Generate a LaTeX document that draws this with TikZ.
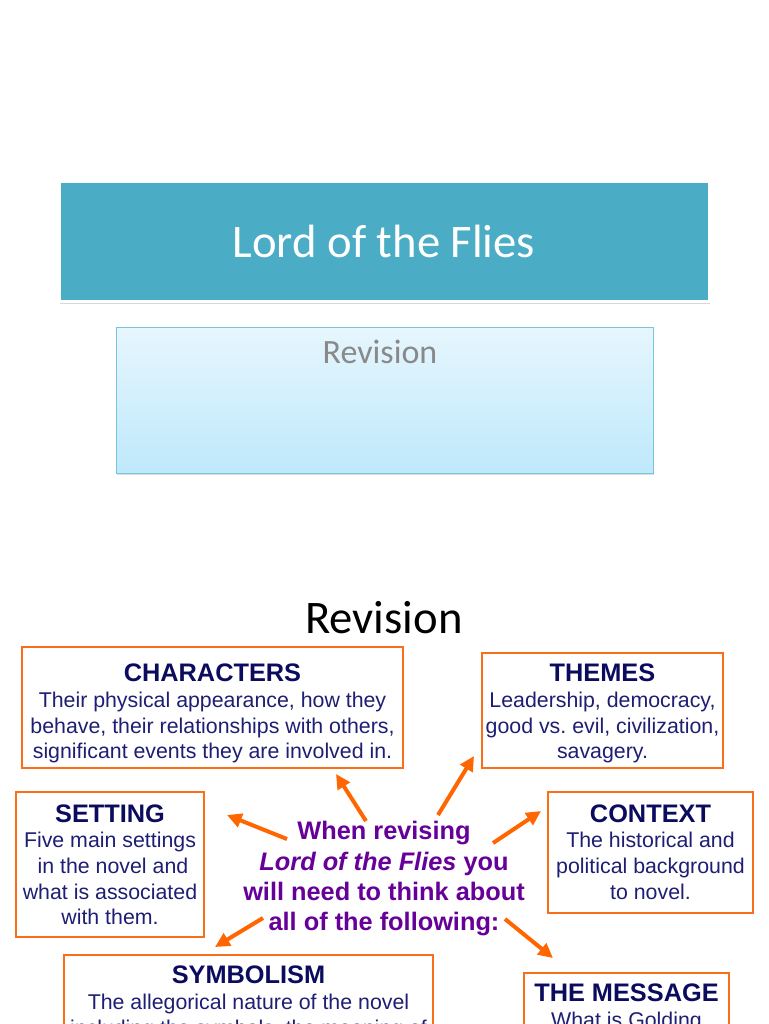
\documentclass[tikz,border=0pt]{standalone}
\usepackage{fontspec}
\setmainfont{Liberation Sans}
\newfontfamily\calibri{Carlito}
\usetikzlibrary{arrows.meta,positioning,shadows}
\definecolor{slideteal}{RGB}{75,172,198}
\definecolor{paleblue}{RGB}{230,246,253}
\definecolor{skyblue}{RGB}{190,233,251}
\definecolor{edgeblue}{RGB}{120,196,220}
\definecolor{revgray}{RGB}{137,137,137}
\definecolor{boxorange}{RGB}{250,110,25}
\definecolor{arroworange}{RGB}{255,102,0}
\definecolor{inknavy}{RGB}{30,30,115}
\definecolor{headnavy}{RGB}{12,12,95}
\definecolor{revpurple}{RGB}{102,0,153}
\newcommand\boxhead[1]{{\bfseries\color{headnavy}\fontsize{19}{19.2}\selectfont #1}}

\begin{document}
\begin{tikzpicture}[x=0.75pt, y=-0.75pt, every node/.style={inner sep=0pt}]
\tikzset{titlebox/.style={fill=slideteal, draw=white, line width=2.25pt, minimum width=487.5pt, minimum height=90pt, text=white, font=\calibri\fontsize{35}{42}\selectfont, drop shadow={opacity=0.3, shadow xshift=1pt, shadow yshift=-2.5pt}}}
\tikzset{subbox/.style={top color=paleblue, bottom color=skyblue, draw=edgeblue, line width=0.75pt, minimum width=402.75pt, minimum height=109.5pt, drop shadow={opacity=0.25, shadow xshift=0.5pt, shadow yshift=-1.5pt}}}
\tikzset{frame/.style={draw=boxorange, line width=1.5pt, fill=white, anchor=north west}}
\tikzset{boxtext/.style={align=center, text=inknavy, font=\fontsize{16}{19.2}\selectfont}}
\tikzset{arrow/.style={-{Triangle[length=11pt, width=10.5pt]}, line width=3pt, draw=arroworange}}
\useasboundingbox (0,0) rectangle (768,1024);
\fill[white] (0,0) rectangle (768,1024);
% title slide
\node[titlebox] (title) at (384,241) {Lord of the Flies};
\node[subbox] (sub) at (384.5,400) {};
\node[anchor=base, text=revgray, font=\calibri\fontsize{25.5}{30}\selectfont] (subtitle) at (380,363) {Revision};
% revision slide
\node[anchor=base, font=\calibri\fontsize{35}{42}\selectfont] (heading) at (384,633) {Revision};
\node[frame, minimum width=285.75pt, minimum height=90.75pt] (charbox) at (21,646) {};
\node[boxtext, below=13.5pt of charbox.north] (chars) {\boxhead{CHARACTERS}\\Their physical appearance, how they\\behave, their relationships with others,\\significant events they are involved in.};
\node[frame, minimum width=180.75pt, minimum height=86.25pt] (themebox) at (481,652) {};
\node[boxtext, below=9pt of themebox.north] (themes) {\boxhead{THEMES}\\Leadership, democracy,\\good vs.\ evil, civilization,\\savagery.};
\node[frame, minimum width=141pt, minimum height=108.75pt] (setbox) at (15,791) {};
\node[boxtext, below=10pt of setbox.north] (setting) {\boxhead{SETTING}\\Five main settings\\\ in the novel and\\what is associated\\with them.};
\node[frame, minimum width=153.75pt, minimum height=90.75pt] (contbox) at (547,791) {};
\node[boxtext, below=10pt of contbox.north] (context) {\boxhead{CONTEXT}\\The historical and\\political background\\to novel.};
\node[frame, minimum width=276.75pt, minimum height=100pt] (symbox) at (63,954) {};
\node[boxtext, below=9pt of symbox.north] (symbols) {\boxhead{SYMBOLISM}\\The allegorical nature of the novel\\including the symbols, the meaning of};
\node[frame, minimum width=153.75pt, minimum height=80pt] (msgbox) at (523,972) {};
\node[boxtext, below=9pt of msgbox.north] (message) {\boxhead{THE MESSAGE}\\What is Golding};
\node[anchor=north, align=center, text=revpurple, font=\bfseries\fontsize{19}{22.8}\selectfont] (centre) at (384,821) {When revising\\\textit{Lord of the Flies} you\\will need to think about\\all of the following:};
% arrow ends
\coordinate (charT) at (366,821); \coordinate (charH) at (336,774);
\coordinate (themT) at (438,815); \coordinate (themH) at (474,756);
\coordinate (setT) at (287,839); \coordinate (setH) at (227,815);
\coordinate (contT) at (493,843); \coordinate (contH) at (541,811);
\coordinate (symT) at (263,918); \coordinate (symH) at (215,947);
\coordinate (msgT) at (505,919); \coordinate (msgH) at (553,958);
\draw[arrow] (charT) -- (charH);
\draw[arrow] (themT) -- (themH);
\draw[arrow] (setT) -- (setH);
\draw[arrow] (contT) -- (contH);
\draw[arrow] (symT) -- (symH);
\draw[arrow] (msgT) -- (msgH);
\end{tikzpicture}
\end{document}
